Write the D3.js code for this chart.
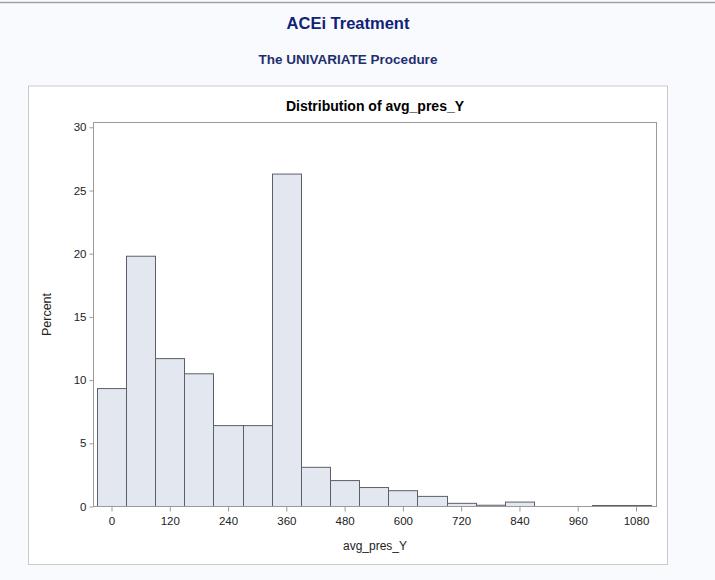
<!DOCTYPE html>
<html>
<head>
<meta charset="utf-8">
<script src="https://cdn.jsdelivr.net/npm/d3@7"></script>
<style>
  body { margin: 0; background: #f9fafe; }
  svg { display: block; font-family: "Liberation Sans", Arial, sans-serif; }
</style>
</head>
<body>
<div id="chart"></div>
<script>
// histogram bins (midpoints, width 60) and percent per bin
const binMids = [0, 60, 120, 180, 240, 300, 360, 420, 480, 540, 600, 660, 720, 780, 840, 900, 960, 1020, 1080];
const percents = [9.33, 19.8, 11.7, 10.5, 6.4, 6.4, 26.3, 3.1, 2.05, 1.5, 1.25, 0.8, 0.25, 0.1, 0.35, 0, 0, 0.08, 0.08];
const binWidth = 60;
const xTicks = [0, 120, 240, 360, 480, 600, 720, 840, 960, 1080];
const yTicks = [0, 5, 10, 15, 20, 25, 30];

const W = 715, H = 580;
const frame = { left: 93.5, right: 656.5, top: 122.5, bottom: 506.5 };

const svg = d3.select(`#chart`).append(`svg`)
  .attr(`width`, W)
  .attr(`height`, H);

// page top rule
svg.append(`line`)
  .attr(`x1`, 0).attr(`x2`, W).attr(`y1`, 2.5).attr(`y2`, 2.5)
  .attr(`stroke`, `#a3a3a3`).attr(`stroke-width`, 1.5);

svg.append(`text`)
  .attr(`x`, 348).attr(`y`, 29)
  .attr(`text-anchor`, `middle`)
  .attr(`font-size`, 16.5).attr(`font-weight`, `bold`)
  .attr(`fill`, `#112277`)
  .text(`ACEi Treatment`);

svg.append(`text`)
  .attr(`x`, 348).attr(`y`, 64)
  .attr(`text-anchor`, `middle`)
  .attr(`font-size`, 13.5).attr(`font-weight`, `bold`)
  .attr(`fill`, `#1f2f6e`)
  .text(`The UNIVARIATE Procedure`);

// graph box
svg.append(`rect`)
  .attr(`x`, 28.5).attr(`y`, 86).attr(`width`, 639).attr(`height`, 478.5)
  .attr(`fill`, `#fff`).attr(`stroke`, `#c9c9cc`);

svg.append(`text`)
  .attr(`x`, (frame.left + frame.right) / 2).attr(`y`, 111)
  .attr(`text-anchor`, `middle`)
  .attr(`font-size`, 14).attr(`font-weight`, `bold`)
  .attr(`fill`, `#000`)
  .text(`Distribution of avg_pres_Y`);

const x = d3.scaleLinear().domain([0, 1080]).range([111.5, 636]);
const y = d3.scaleLinear().domain([0, 30]).range([506.5, 127.3]);

// bars
svg.append(`g`)
  .selectAll(`rect`)
  .data(binMids.map((m, i) => ({ mid: m, pct: percents[i] })).filter((d) => d.pct > 0))
  .enter().append(`rect`)
    .attr(`x`, (d) => Math.round(x(d.mid - binWidth / 2)) + 0.5)
    .attr(`width`, (d) => Math.round(x(d.mid + binWidth / 2)) - Math.round(x(d.mid - binWidth / 2)))
    .attr(`y`, (d) => y(d.pct))
    .attr(`height`, (d) => y(0) - y(d.pct))
    .attr(`fill`, `#e3e7f0`)
    .attr(`stroke`, `#5c5f66`)
    .attr(`stroke-width`, 1);

// plot frame
svg.append(`rect`)
  .attr(`x`, frame.left).attr(`y`, frame.top)
  .attr(`width`, frame.right - frame.left).attr(`height`, frame.bottom - frame.top)
  .attr(`fill`, `none`).attr(`stroke`, `#9a9a9a`);

const yAxis = svg.append(`g`)
  .attr(`transform`, `translate(${frame.left},0)`)
  .call(d3.axisLeft(y).tickValues(yTicks).tickSize(4).tickPadding(3));

const xAxis = svg.append(`g`)
  .attr(`transform`, `translate(0,${frame.bottom})`)
  .call(d3.axisBottom(x).tickValues(xTicks).tickFormat(d3.format(`d`)).tickSize(5).tickPadding(5));

[yAxis, xAxis].forEach((g) => {
  g.select(`.domain`).remove();
  g.selectAll(`.tick line`).attr(`stroke`, `#9a9a9a`);
  g.selectAll(`.tick text`)
    .attr(`font-family`, `"Liberation Sans", Arial, sans-serif`)
    .attr(`font-size`, 11.5)
    .attr(`fill`, `#222`);
});

svg.append(`text`)
  .attr(`x`, (frame.left + frame.right) / 2).attr(`y`, 550)
  .attr(`text-anchor`, `middle`)
  .attr(`font-size`, 12).attr(`fill`, `#222`)
  .text(`avg_pres_Y`);

svg.append(`text`)
  .attr(`transform`, `translate(51,${(frame.top + frame.bottom) / 2}) rotate(-90)`)
  .attr(`text-anchor`, `middle`)
  .attr(`font-size`, 12.5).attr(`fill`, `#222`)
  .text(`Percent`);
</script>
</body>
</html>
